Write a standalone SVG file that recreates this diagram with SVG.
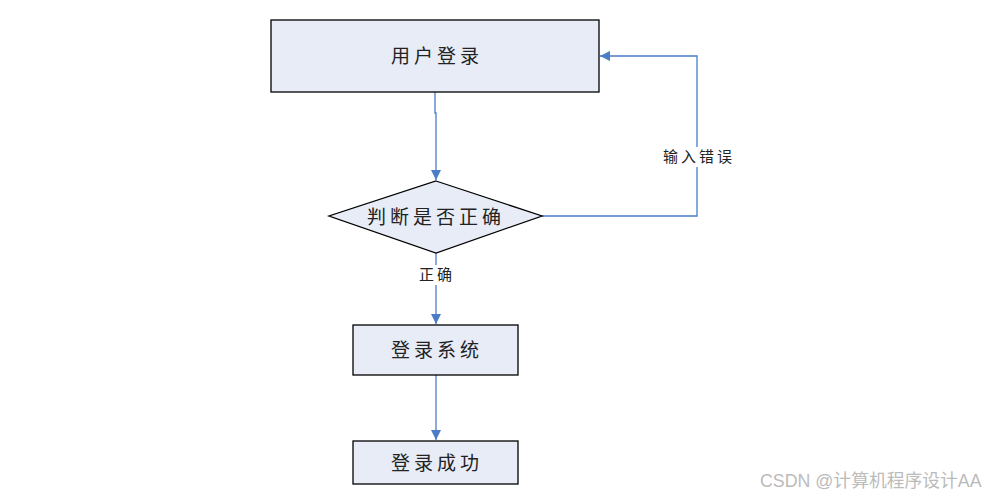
<svg xmlns="http://www.w3.org/2000/svg" width="988" height="498" viewBox="0 0 988 498">
<style>
.node{fill:#E7ECF7;stroke:#000;stroke-width:1.3}
.t{font-family:"Liberation Serif","Noto Sans CJK SC",serif;font-size:19px;letter-spacing:4px;fill:#222;text-anchor:middle;dominant-baseline:central}
.lbl{font-family:"Liberation Serif","Noto Sans CJK SC",serif;font-size:15px;letter-spacing:3px;fill:#222;text-anchor:middle;dominant-baseline:central}
.c{fill:none;stroke:#4A7CC8;stroke-width:1.3}
.wm{font-family:"Liberation Sans","Noto Sans CJK SC",sans-serif;font-size:17.8px;fill:#BBBBBB}
</style>
<defs>
<marker id="arr" viewBox="0 0 10 10" refX="10" refY="5" markerWidth="10" markerHeight="10" markerUnits="userSpaceOnUse" orient="auto">
<path d="M0,0 L10,5 L0,10 z" fill="#4A7CC8"/>
</marker>
</defs>
<rect width="988" height="498" fill="#fff"/>
<g id="connectors">
<path class="c" d="M435,92 V113 H436 V180" marker-end="url(#arr)"/>
<path class="c" d="M542,216 H697 V56 H600" marker-end="url(#arr)"/>
<path class="c" d="M436,253 V324" marker-end="url(#arr)"/>
<path class="c" d="M436,375 V440" marker-end="url(#arr)"/>
<rect x="657" y="147" width="80" height="20" fill="#fff"/>
<text class="lbl" x="699" y="157">输入错误</text>
<rect x="414" y="265" width="44" height="20" fill="#fff"/>
<text class="lbl" x="437" y="275">正确</text>
</g>
<g id="n1">
<rect class="node" x="271" y="20" width="328" height="72"/>
<text class="t" x="437" y="56">用户登录</text>
</g>
<g id="n2">
<polygon class="node" points="436,181 542,216 436,253 329,216"/>
<text class="t" x="436" y="217">判断是否正确</text>
</g>
<g id="n3">
<rect class="node" x="353" y="325" width="165" height="50"/>
<text class="t" x="437" y="350">登录系统</text>
</g>
<g id="n4">
<rect class="node" x="353" y="441" width="165" height="43"/>
<text class="t" x="437" y="463">登录成功</text>
</g>
<text class="wm" x="760" y="487">CSDN @计算机程序设计AA</text>
</svg>
